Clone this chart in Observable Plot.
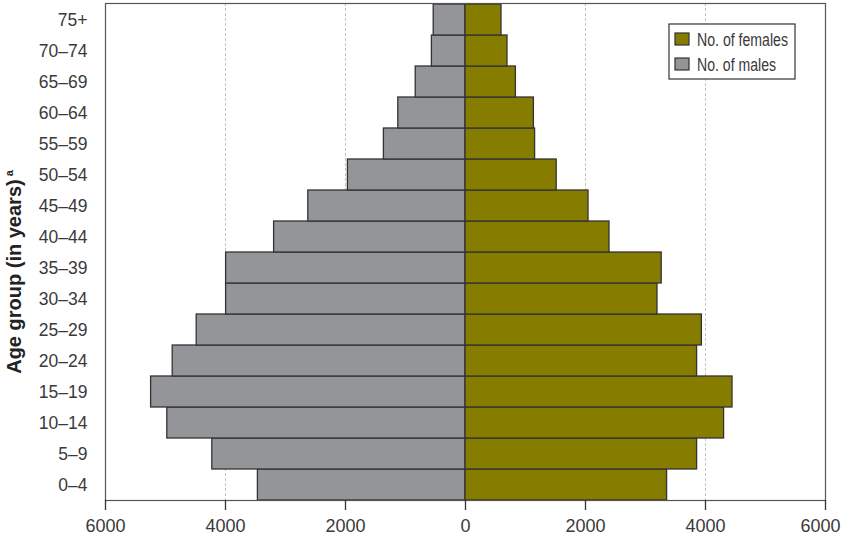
<!DOCTYPE html>
<html><head><meta charset="utf-8">
<script src="https://cdn.jsdelivr.net/npm/d3@7"></script>
<script src="https://cdn.jsdelivr.net/npm/@observablehq/plot@0.6"></script>
<style>
body{margin:0;background:#fff;}
#chart svg{display:block;}
</style>
</head><body><div id="chart"></div>
<script>
const ageGroups = ["0–4","5–9","10–14","15–19","20–24","25–29","30–34","35–39","40–44","45–49","50–54","55–59","60–64","65–69","70–74","75+"];
const males   = [3460,4220,4970,5240,4880,4480,3990,3990,3190,2620,1960,1360,1120,830,560,530];
const females = [3360,3860,4310,4450,3860,3940,3200,3270,2400,2050,1520,1160,1140,840,700,600];
const seriesNames = ["No. of females","No. of males"];
const seriesColors = ["#857c00","#939598"];
const xTicks = [-6000,-4000,-2000,0,2000,4000,6000];
const gridTicks = [-4000,-2000,2000,4000];
const yTitle = "Age group (in years)";
const yTitleNote = "a";

const FONT = "'Liberation Sans',Arial,Helvetica,sans-serif";

const rows = [];
ageGroups.forEach((g,i)=>{
  rows.push({age:g, sex:seriesNames[1], value:-males[i]});
  rows.push({age:g, sex:seriesNames[0], value:females[i]});
});

const plot = Plot.plot({
  width: 841, height: 537,
  marginLeft: 105, marginRight: 16, marginTop: 3, marginBottom: 37,
  style: {fontFamily: FONT, fontSize: "17px", color: "#3a3a3a", background: "#fff"},
  x: {domain: [-6000, 6000]},
  y: {domain: ageGroups.slice().reverse(), padding: 0},
  color: {domain: seriesNames, range: seriesColors},
  marks: [
    Plot.ruleX(gridTicks, {stroke: "#c4c4c4", strokeDasharray: "3,2", strokeWidth: 1}),
    Plot.barX(rows, {y: "age", x: "value", fill: "sex", stroke: "#333", strokeWidth: 1.3}),
    Plot.frame({stroke: "#555", strokeWidth: 1.2}),
    Plot.ruleY([0], {frameAnchor: "bottom", stroke: "#333", strokeWidth: 1.3}),
    Plot.axisX({ticks: xTicks, tickFormat: d => String(Math.abs(d)), tickSize: 10, tickPadding: 9, label: null, stroke: "#333", strokeWidth: 1.3, fontSize: 18}),
    Plot.axisY({tickSize: 0, tickPadding: 18, label: null, fontSize: 17.5})
  ]
});

document.getElementById("chart").appendChild(plot);

const svg = d3.select(plot);

// keep the right-most tick label inside the picture, as in the reference
const xLabels = svg.selectAll("g[aria-label='x-axis tick label'] text").nodes();
if (xLabels.length) d3.select(xLabels[xLabels.length - 1]).attr("dx", -5);

// y axis title
const t = svg.append("text")
  .attr("transform", "translate(21,272) rotate(-90)")
  .attr("text-anchor", "middle")
  .attr("font-family", FONT)
  .attr("font-weight", "bold")
  .attr("font-size", 20)
  .attr("fill", "#222");
t.append("tspan").text(yTitle);
t.append("tspan").attr("font-size", 11).attr("dx", 3).attr("dy", -8).text(yTitleNote);

// legend
const lg = svg.append("g").attr("font-family", FONT).attr("font-size", 17.5).attr("fill", "#3a3a3a").attr("text-anchor", "start");
lg.append("rect").attr("x", 669).attr("y", 24).attr("width", 126).attr("height", 55)
  .attr("fill", "#fff").attr("stroke", "#333").attr("stroke-width", 1.2);
seriesNames.forEach((name, i) => {
  lg.append("rect").attr("x", 675).attr("y", 33 + i * 25).attr("width", 14).attr("height", 12)
    .attr("fill", seriesColors[i]).attr("stroke", "#333").attr("stroke-width", 1.2);
  const tx = lg.append("text").attr("x", 697).attr("y", 45.5 + i * 25).text(name);
  const w = tx.node().getComputedTextLength();
  const target = i === 0 ? 91 : 79;
  if (w > target) tx.attr("textLength", target).attr("lengthAdjust", "spacingAndGlyphs");
});
</script>
</body></html>
